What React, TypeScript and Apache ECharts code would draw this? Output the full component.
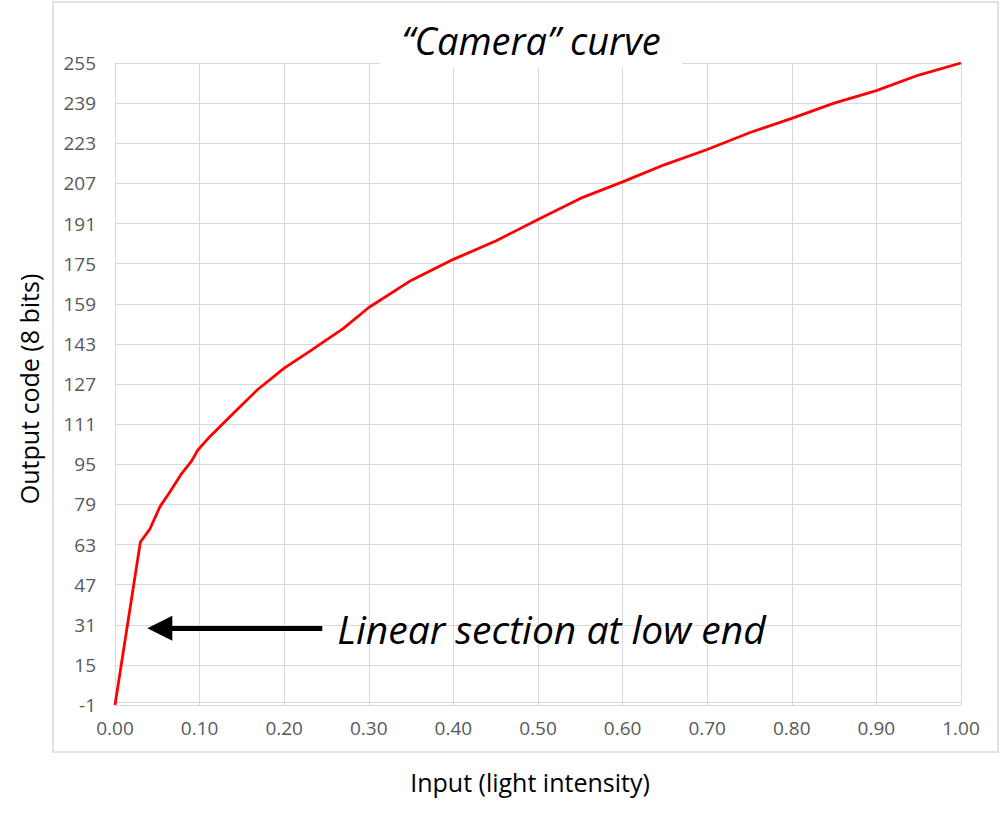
import React, { useEffect, useRef } from "react";
import * as echarts from "echarts";

// light intensity (0..1) vs 8-bit output code
const inputLevels = [0, 0.03, 0.041, 0.053, 0.065, 0.079, 0.09, 0.098, 0.112, 0.14, 0.168, 0.2, 0.23, 0.27, 0.3, 0.35, 0.4, 0.45, 0.5, 0.55, 0.6, 0.65, 0.7, 0.75, 0.8, 0.85, 0.9, 0.95, 1.0];
const outputCodes = [-1, 64, 69, 78, 84, 91.4, 96, 100.7, 106, 115.3, 124.6, 133.3, 140, 149.2, 157.5, 168.3, 176.7, 184, 192.6, 201, 207.6, 214.5, 220.5, 227.2, 232.9, 239, 244, 250.2, 255];

// arrow annotation: tail and head in data space
const arrowFrom = [0.245, 29.6];
const arrowTo = [0.053, 29.6];
const arrowLabel = "Linear section at low end";

const TITLE = "\u201CCamera\u201D curve";
const FONT = "Open Sans";

export default function App() {
  const chartRef = useRef<HTMLDivElement>(null);

  useEffect(() => {
    if (!chartRef.current) return;
    const chart = echarts.init(chartRef.current, undefined, { renderer: "svg" });

    chart.setOption({
      animation: false,
      backgroundColor: "#fff",
      textStyle: { fontFamily: FONT },
      grid: { left: 115, right: 39, top: 63, bottom: 111 },
      xAxis: {
        type: "value",
        min: 0,
        max: 1,
        interval: 0.1,
        name: "Input (light intensity)",
        nameLocation: "middle",
        nameGap: 64,
        nameTextStyle: { color: "#000", fontSize: 25, fontFamily: FONT, padding: [0, 16, 0, 0] },
        axisLine: { lineStyle: { color: "#d9d9d9", width: 1 } },
        axisTick: { show: false },
        axisLabel: { color: "#595959", fontSize: 19, margin: 13, formatter: (v: number) => v.toFixed(2) },
        splitLine: { lineStyle: { color: "#d9d9d9", width: 1 } },
      },
      yAxis: {
        type: "value",
        min: -1,
        max: 255,
        interval: 16,
        name: "Output code (8 bits)",
        nameLocation: "middle",
        nameGap: 74,
        nameTextStyle: { color: "#000", fontSize: 25, fontFamily: FONT, padding: [0, 10, 0, 0] },
        axisLine: { show: true, lineStyle: { color: "#d9d9d9", width: 1 } },
        axisTick: { show: false },
        axisLabel: { color: "#595959", fontSize: 19, margin: 19 },
        splitLine: { lineStyle: { color: "#d9d9d9", width: 1 } },
      },
      graphic: [
        {
          type: "rect",
          z: 100,
          silent: true,
          shape: { x: 53, y: 2, width: 945, height: 750 },
          style: { fill: "none", stroke: "#d9d9d9", lineWidth: 1.5 },
        },
        {
          type: "rect",
          z: 100,
          silent: true,
          shape: { x: 380, y: 14, width: 302, height: 54 },
          style: { fill: "#fff" },
        },
        {
          type: "text",
          z: 101,
          silent: true,
          x: 531,
          y: 40,
          style: {
            text: TITLE,
            fill: "#000",
            font: `italic 38px "${FONT}"`,
            align: "center",
            verticalAlign: "middle",
          },
        },
      ],
      series: [
        {
          type: "line",
          data: inputLevels.map((x, i) => [x, outputCodes[i]]),
          showSymbol: false,
          lineStyle: { color: "#ff0000", width: 2.8 },
          itemStyle: { color: "#ff0000" },
          emphasis: { disabled: true },
          markLine: {
            silent: true,
            symbol: ["none", "triangle"],
            symbolSize: [25, 25],
            lineStyle: { color: "#000", width: 5, type: "solid" },
            label: {
              show: true,
              position: "start",
              distance: 15,
              formatter: arrowLabel,
              color: "#000",
              fontSize: 39,
              fontStyle: "italic",
              fontFamily: FONT,
            },
            emphasis: { disabled: true },
            data: [[{ coord: arrowFrom }, { coord: arrowTo }]],
          },
        },
      ],
    });

    return () => {
      chart.dispose();
    };
  }, []);

  return <div ref={chartRef} style={{ position: "fixed", left: 0, top: 0, width: 1000, height: 816 }} />;
}
